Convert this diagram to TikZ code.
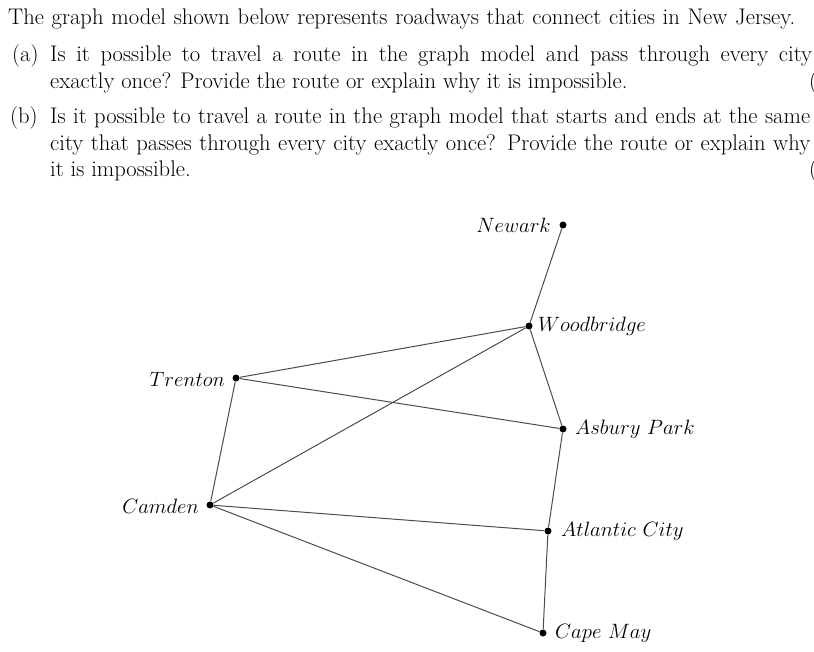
\documentclass[tikz,border=0pt]{standalone}
\begin{document}
\begin{tikzpicture}[x=1pt,y=-1pt,
  txt/.style={anchor=base west,inner sep=0pt,font=\fontsize{22.6}{26}\selectfont},
  city/.style={circle,fill=black,inner sep=0pt,minimum size=7pt},
  lbl/.style={inner sep=0pt,font=\fontsize{22}{26}\selectfont},
  edge/.style={draw=black!70,line width=1pt}]
\useasboundingbox (0,0) rectangle (814,652);
\clip (0,0) rectangle (814,652);
\node[txt] (l1) at (8,25) {\makebox[787pt][s]{The graph model shown below represents roadways that connect cities in New Jersey.}};
\node[txt] (a) at (12,62) {(a)};
\node[txt] (a1) at (50,62) {\makebox[762pt][s]{Is it possible to travel a route in the graph model and pass through every city}};
\node[txt] (a2) at (50,89) {exactly once? Provide the route or explain why it is impossible.};
\node[txt] (ap) at (809,89) {(3 points)};
\node[txt] (b) at (10,124) {(b)};
\node[txt] (b1) at (50,124) {\makebox[760pt][s]{Is it possible to travel a route in the graph model that starts and ends at the same}};
\node[txt] (b2) at (50,151) {\makebox[760pt][s]{city that passes through every city exactly once? Provide the route or explain why}};
\node[txt] (b3) at (50,177) {it is impossible.};
\node[txt] (bp) at (809,177) {(3 points)};

\node[city] (nw) at (563,225) {};
\node[city] (wb) at (529,326) {};
\node[city] (tr) at (236,378) {};
\node[city] (ap2) at (563,429) {};
\node[city] (cd) at (210,505) {};
\node[city] (ac) at (548,531) {};
\node[city] (cm) at (543,633) {};
\node[lbl,anchor=east] (nwl) at (551,225) {$Newark$};
\node[lbl,anchor=west] (wbl) at (538,326) {$Woodbridge$};
\node[lbl,anchor=east] (trl) at (225,379) {$Trenton$};
\node[lbl,anchor=west] (apl) at (575,429) {$Asbury\ Park$};
\node[lbl,anchor=east] (cdl) at (199,506) {$Camden$};
\node[lbl,anchor=west] (acl) at (561,531) {$Atlantic\ City$};
\node[lbl,anchor=west] (cml) at (555,633) {$Cape\ May$};

\draw[edge] (nw)--(wb);
\draw[edge] (wb)--(tr);
\draw[edge] (wb)--(cd);
\draw[edge] (wb)--(ap2);
\draw[edge] (tr)--(ap2);
\draw[edge] (tr)--(cd);
\draw[edge] (cd)--(ac);
\draw[edge] (cd)--(cm);
\draw[edge] (ap2)--(ac);
\draw[edge] (ac)--(cm);
\end{tikzpicture}
\end{document}
